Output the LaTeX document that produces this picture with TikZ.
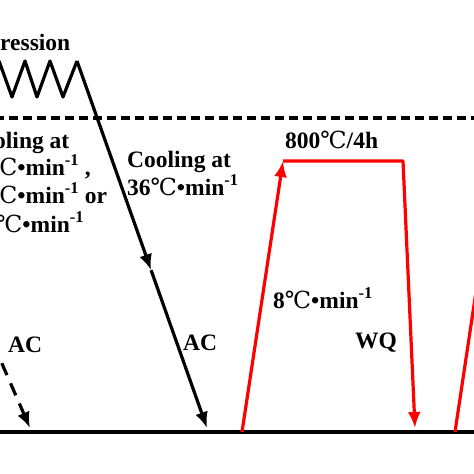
\documentclass[tikz,border=0pt]{standalone}
\usepackage{fontspec}
\setmainfont{Liberation Serif}
\newfontfamily\celfont{DejaVu Serif}
\usetikzlibrary{arrows.meta,calc}
\newcommand\cel{{\celfont\mdseries ℃}}
\newcommand\permin{\cel\textbullet min\textsuperscript{-1}}

\begin{document}
\begin{tikzpicture}[x=1pt,y=-1pt,
  font=\fontsize{23.5}{28}\selectfont\bfseries,
  lbl/.style={anchor=base west,inner sep=0pt},
  blk/.style={line width=3.2pt,line join=round},
  redl/.style={draw=red,line width=3.2pt},
  >={Latex[length=16pt,width=13pt]}]
\useasboundingbox (0,0) rectangle (474,474);
\coordinate (b0) at (-5,432); \coordinate (b1) at (480,432);
\draw[blk] (b0)--(b1);
\coordinate (d0) at (-5,118); \coordinate (d1) at (480,118);
\draw[blk,dash pattern=on 9pt off 5pt] (d0)--(d1);
% compression and cooling
\coordinate (peak) at (77,61);
\coordinate (cend) at (207,428);
\coordinate (cmid) at ($(peak)!0.57!(cend)$);
\draw[blk] (-1,61)--(12,97)--(25,61)--(37,97)--(50,61)--(63,97)--(peak);
\draw[blk,->] (peak)--(cmid);
\draw[blk,->] (cmid)--(cend);
\coordinate (ac0) at (-7,343); \coordinate (ac1) at (30,428);
\draw[blk,->,dash pattern=on 13pt off 9pt] (ac0)--(ac1);
% heat treatment
\coordinate (r0) at (242,432); \coordinate (r1) at (283,161);
\coordinate (r2) at (403,161); \coordinate (r3) at (415,428);
\coordinate (s0) at (455,432); \coordinate (s1) at (480,265);
\draw[redl,->] (r0)--(r1);
\draw[redl,->,line join=round] (r1)--(r2)--(r3);
\draw[redl] (s0)--(s1);
\node[lbl] (comp) at (0,50) {ression};
\node[lbl] (la1) at (-6,148) {oling at};
\node[lbl] (la2) at (-9,175) {\permin\ ,};
\node[lbl] (la3) at (-9,203) {\permin\ or};
\node[lbl] (la4) at (-4,232) {\permin};
\node[lbl] (ra1) at (127,167) {Cooling at};
\node[lbl] (ra2) at (127,195) {36\permin};
\node[lbl] (acl) at (8,352) {AC};
\node[lbl] (acr) at (183,350) {AC};
\node[lbl] (hold) at (285,148) {800\cel/4h};
\node[lbl] (heat) at (273,308) {8\permin};
\node[lbl] (wq) at (355,348) {WQ};
\end{tikzpicture}
\end{document}
